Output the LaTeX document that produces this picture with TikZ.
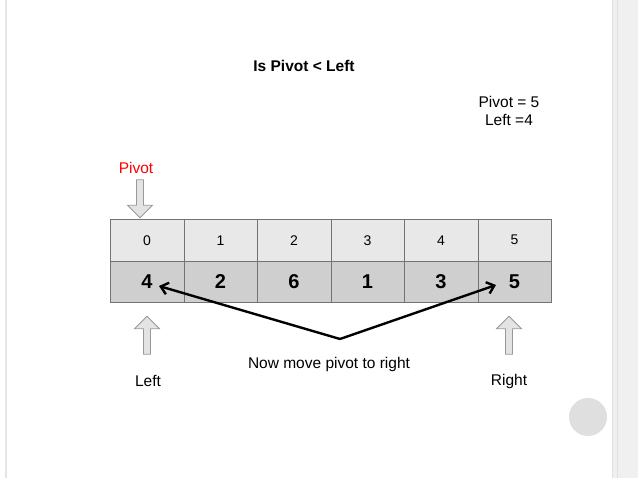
\documentclass[tikz,border=0pt]{standalone}
\usepackage{fontspec}
\setmainfont{Liberation Sans}
\usetikzlibrary{shapes.arrows,arrows.meta}
\begin{document}
\begin{tikzpicture}[x=1pt,y=-1pt,
  top/.style={draw=gray!90!black,fill=gray!18,minimum width=73.5pt,minimum height=42pt,inner sep=0pt,font=\fontsize{14}{16}\selectfont,anchor=north west},
  bot/.style={draw=gray!90!black,fill=gray!38,minimum width=73.5pt,minimum height=41pt,inner sep=0pt,font=\bfseries\fontsize{20}{22}\selectfont,anchor=north west},
  fat/.style={single arrow,draw=gray!80,line width=0.8pt,fill=gray!22,minimum width=25pt,single arrow head extend=6pt,single arrow tip angle=90,minimum height=38pt,inner sep=2pt},
  lbl/.style={font=\fontsize{15.5}{18}\selectfont}]
\useasboundingbox (0,0) rectangle (638,478);
\fill[white] (0,0) rectangle (638,478);
\draw[gray!20,line width=1.5pt] (6,0) -- (6,478);
\fill[gray!12] (612,0) rectangle (638,478);
\draw[gray!25,line width=1pt] (612,0) -- (612,478);
\draw[gray!25,line width=1pt] (617,0) -- (617,478);
\fill[gray!25] (588,417) circle (19);
\node[font=\bfseries\fontsize{15.5}{18}\selectfont] (title) at (304,66) {Is Pivot < Left};
\node[lbl,align=center] (info) at (509,111) {Pivot = 5\\Left =4};
\foreach \i in {0,...,5} {
  \node[top] (t\i) at (110+73.5*\i,219) {\i};
}
\foreach \v [count=\i from 0] in {4,2,6,1,3,5} {
  \node[bot] (b\i) at (110+73.5*\i,261) {\v};
}
\node[lbl,text=red] (pv) at (136,168) {Pivot};
\node[fat,shape border rotate=270] (pa) at (140,197) {};
\node[fat,shape border rotate=90] (la) at (147,337) {};
\node[fat,shape border rotate=90] (ra) at (509,337) {};
\node[lbl] (left) at (148,381) {Left};
\node[lbl] (right) at (509,381) {Right};
\node[lbl] (move) at (329,364) {Now move pivot to right};
\coordinate (apex) at (340,339);
\coordinate (e1) at (159,286);
\coordinate (e2) at (496,285);
\draw[line width=2.4pt,-{Straight Barb[length=7pt,width=12pt]}] (apex) -- (e1);
\draw[line width=2.4pt,-{Straight Barb[length=7pt,width=12pt]}] (apex) -- (e2);
\end{tikzpicture}
\end{document}
